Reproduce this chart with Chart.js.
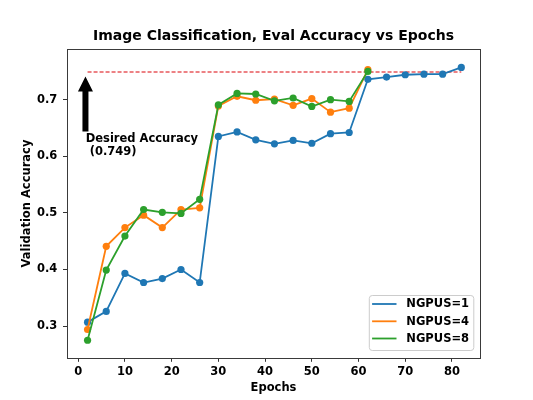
<!DOCTYPE html>
<html>
<head>
<meta charset="utf-8">
<script src="https://cdn.jsdelivr.net/npm/chart.js@4/dist/chart.umd.min.js"></script>
<style>
html,body{margin:0;padding:0;background:#fff;}
#c{display:block;}
</style>
</head>
<body>
<canvas id="c" width="533" height="400" style="width:533px;height:400px"></canvas>
<script>
// ---- data ----
const epochs = [2, 6, 10, 14, 18, 22, 26, 30, 34, 38, 42, 46, 50, 54, 58, 62, 66, 70, 74, 78, 82];
const ngpus1 = [0.307, 0.326, 0.393, 0.377, 0.384, 0.400, 0.377, 0.635, 0.643, 0.629, 0.622, 0.628, 0.623, 0.640, 0.642, 0.736, 0.740, 0.744, 0.745, 0.745, 0.757];
const ngpus4 = [0.294, 0.441, 0.474, 0.496, 0.474, 0.506, 0.509, 0.689, 0.706, 0.699, 0.701, 0.690, 0.702, 0.678, 0.685, 0.753];
const ngpus8 = [0.275, 0.399, 0.459, 0.506, 0.501, 0.499, 0.524, 0.691, 0.711, 0.710, 0.698, 0.703, 0.688, 0.700, 0.697, 0.750];
const seriesLabels = ['NGPUS=1', 'NGPUS=4', 'NGPUS=8'];
const desiredAccuracy = 0.749;
const targetSpan = [2, 82];
const xTicks = [0, 10, 20, 30, 40, 50, 60, 70, 80];
const yTicks = [0.3, 0.4, 0.5, 0.6, 0.7];
const titleText = 'Image Classification, Eval Accuracy vs Epochs';
const xTitle = 'Epochs';
const yTitle = 'Validation Accuracy';
const annotationLines = ['Desired Accuracy', ' (0.749)'];

const colors = ['#1f77b4', '#ff7f0e', '#2ca02c'];
const FONT = "'DejaVu Sans', sans-serif";

function pts(vals){ return vals.map((v,i)=>({x:epochs[i], y:v})); }

const mkSeries = (i, vals, order) => ({
  label: seriesLabels[i],
  data: pts(vals),
  borderColor: colors[i],
  backgroundColor: colors[i],
  borderWidth: 1.8,
  pointRadius: 3.6,
  pointBorderWidth: 0,
  pointBackgroundColor: colors[i],
  pointHoverRadius: 3.6,
  tension: 0,
  order: order,
  clip: false
});

const overlay = {
  id: 'overlay',
  afterDatasetsDraw(chart){
    const {ctx, chartArea: ca, scales:{x, y}} = chart;
    ctx.save();
    // axes frame
    ctx.strokeStyle = '#3a3a3a';
    ctx.lineWidth = 1;
    ctx.strokeRect(Math.round(ca.left)+0.5, Math.round(ca.top)+0.5, Math.round(ca.right-ca.left), Math.round(ca.bottom-ca.top));

    // arrow annotation
    const ax = x.getPixelForValue(1.55);
    const tipY = y.getPixelForValue(0.741);
    const baseY = y.getPixelForValue(0.644);
    const headLen = 15, headHalf = 7.5, shaftHalf = 3;
    ctx.fillStyle = '#000';
    ctx.beginPath();
    ctx.moveTo(ax - shaftHalf, baseY);
    ctx.lineTo(ax - shaftHalf, tipY + headLen);
    ctx.lineTo(ax - headHalf, tipY + headLen);
    ctx.lineTo(ax, tipY);
    ctx.lineTo(ax + headHalf, tipY + headLen);
    ctx.lineTo(ax + shaftHalf, tipY + headLen);
    ctx.lineTo(ax + shaftHalf, baseY);
    ctx.closePath();
    ctx.fill();

    ctx.font = 'bold 11.5px ' + FONT;
    ctx.textAlign = 'left';
    ctx.textBaseline = 'middle';
    const tx = x.getPixelForValue(1.6);
    ctx.fillText(annotationLines[0], tx, y.getPixelForValue(0.631));
    ctx.fillText(annotationLines[1], tx, y.getPixelForValue(0.6075));

    // legend
    const bw = 104.5, bh = 55;
    const bx = ca.right - 6.7 - bw, by = ca.bottom - 7.8 - bh;
    ctx.beginPath();
    ctx.roundRect(bx + 0.5, by + 0.5, bw, bh, 3);
    ctx.fillStyle = 'rgba(255,255,255,0.85)';
    ctx.fill();
    ctx.strokeStyle = '#cccccc';
    ctx.lineWidth = 1;
    ctx.stroke();
    const rows = [by + 9, by + 26.3, by + 43.5];
    chart.data.datasets.slice(0,3).forEach((ds, i) => {
      ctx.strokeStyle = ds.borderColor;
      ctx.lineWidth = 1.8;
      ctx.beginPath();
      ctx.moveTo(bx + 3.3, rows[i]);
      ctx.lineTo(bx + 27.7, rows[i]);
      ctx.stroke();
      ctx.fillStyle = '#000';
      ctx.fillText(ds.label, bx + 37.5, rows[i] + 0.5);
    });
    ctx.restore();
  }
};

const cfg = {
  type: 'line',
  data: {
    datasets: [
      mkSeries(0, ngpus1, 3),
      mkSeries(1, ngpus4, 2),
      mkSeries(2, ngpus8, 1),
      {
        label: 'Desired',
        data: targetSpan.map(v => ({x: v, y: desiredAccuracy})),
        borderColor: '#e8585c',
        backgroundColor: '#e8585c',
        borderWidth: 1.4,
        borderDash: [4, 2],
        pointRadius: 0,
        pointHoverRadius: 0,
        fill: false,
        order: 4
      }
    ]
  },
  options: {
    responsive: false,
    animation: false,
    devicePixelRatio: 1,
    layout: { padding: { left: 0, right: 53, top: 0, bottom: 0 } },
    plugins: {
      legend: { display: false },
      tooltip: { enabled: false },
      title: {
        display: true,
        text: titleText,
        fullSize: false,
        color: '#000',
        font: { family: FONT, size: 14, weight: 'bold' },
        padding: { top: 28, bottom: 4.5 }
      }
    },
    scales: {
      x: {
        type: 'linear',
        min: -2.4,
        max: 86,
        afterBuildTicks: s => { s.ticks = xTicks.map(v => ({value: v})); },
        afterFit: s => { s.height = 42.2; },
        grid: { display: true, drawOnChartArea: false, drawTicks: true, tickLength: 4, color: '#333' },
        border: { display: false },
        ticks: {
          autoSkip: false, maxRotation: 0, padding: 3, color: '#000',
          font: { family: FONT, size: 11.5, weight: 'bold' },
          callback: v => String(v)
        },
        title: {
          display: true, text: xTitle, color: '#000',
          font: { family: FONT, size: 11.5, weight: 'bold' },
          padding: { top: 0, bottom: 5.5 }
        }
      },
      y: {
        type: 'linear',
        min: 0.244,
        max: 0.789,
        afterBuildTicks: s => { s.ticks = yTicks.map(v => ({value: v})); },
        afterFit: s => { s.width = 67; },
        grid: { display: true, drawOnChartArea: false, drawTicks: true, tickLength: 4, color: '#333' },
        border: { display: false },
        ticks: {
          autoSkip: false, padding: 5.7, color: '#000',
          font: { family: FONT, size: 11.5, weight: 'bold' },
          callback: v => Number(v).toFixed(1)
        },
        title: {
          display: true, text: yTitle, color: '#000',
          font: { family: FONT, size: 11.5, weight: 'bold' },
          padding: { top: 19.7, bottom: 0 }
        }
      }
    }
  },
  plugins: [overlay]
};

new Chart(document.getElementById('c'), cfg);
</script>
</body>
</html>
